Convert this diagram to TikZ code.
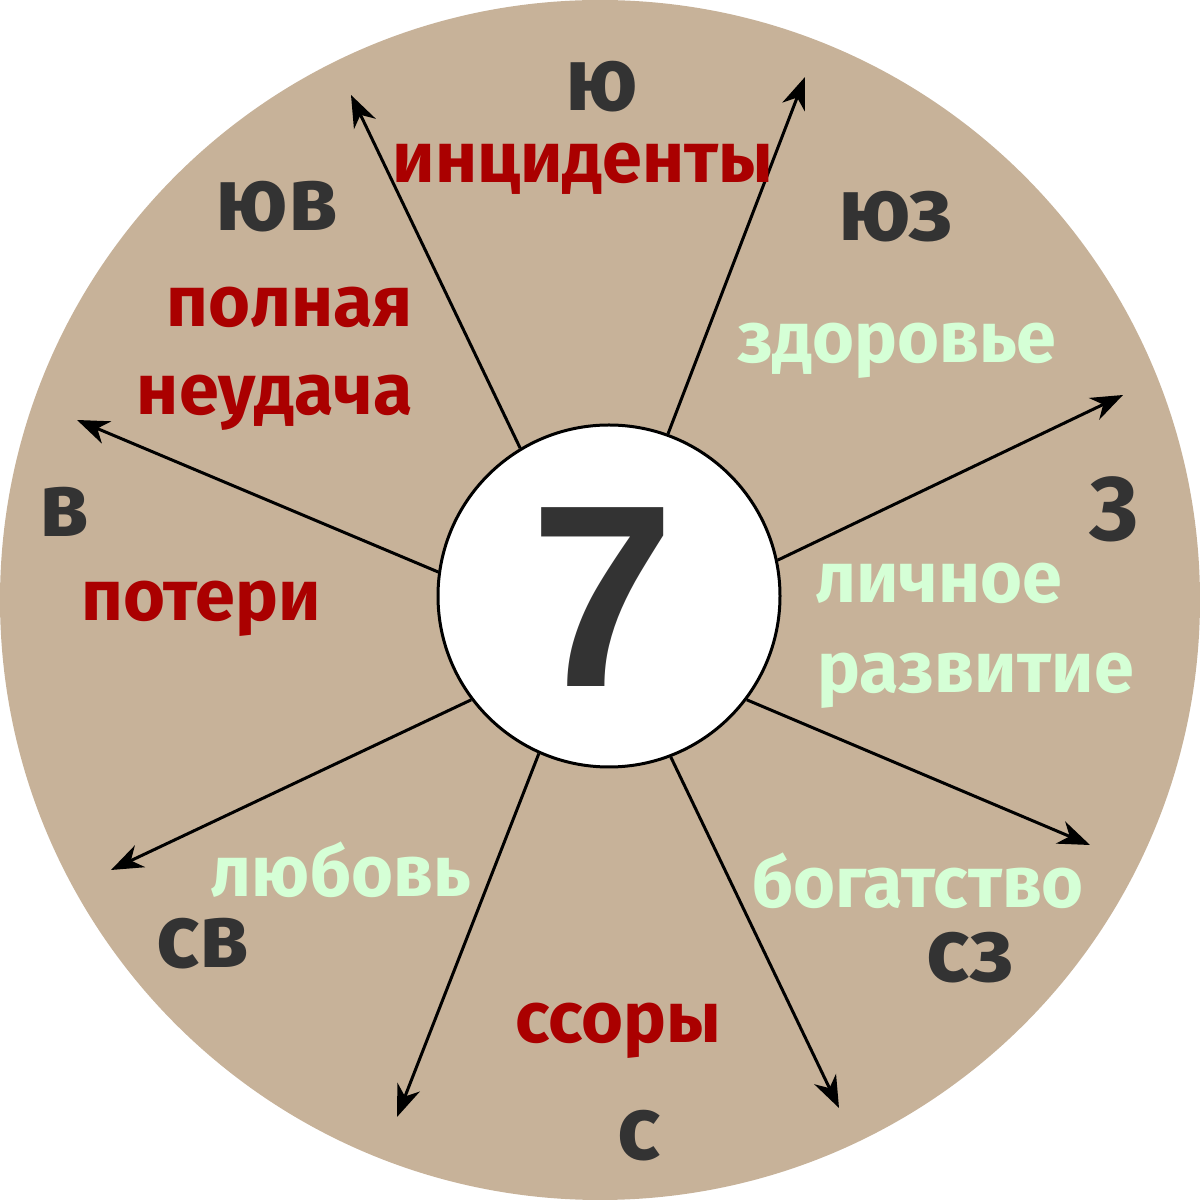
\documentclass[tikz,border=0pt]{standalone}
\usepackage{fontspec}
\setmainfont{Fira Sans}
\newfontfamily\numfont{Liberation Sans}
\usetikzlibrary{arrows.meta}
\definecolor{tan}{RGB}{199,178,153}
\definecolor{darkred}{RGB}{170,0,0}
\definecolor{mint}{RGB}{213,255,214}
\definecolor{darkgray}{RGB}{51,51,51}
\tikzset{
  dirlbl/.style={inner sep=0, text=darkgray, font=\bfseries\fontsize{90}{90}\selectfont},
  badlbl/.style={inner sep=0, text=darkred, font=\bfseries\fontsize{72}{72}\selectfont},
  goodlbl/.style={inner sep=0, text=mint, font=\bfseries\fontsize{72}{72}\selectfont},
  ray/.style={line width=3pt, -{Stealth[length=32pt,width=24pt,inset=10pt]}},
}
\begin{document}
\begin{tikzpicture}[x=1pt,y=1pt]
\useasboundingbox (0,0) rectangle (1200,1200);
\fill[tan] (600,600) circle[radius=600];
% hub
\node[circle, draw, line width=3pt, fill=white, minimum size=342pt, inner sep=0] (hub) at (609,604) {};
\node[anchor=base, inner sep=0, text=darkgray, font=\numfont\bfseries\fontsize{260}{260}\selectfont] (seven) at (603,513) {7};
% tips
\coordinate (t1) at (351,1105);
\coordinate (t2) at (805,1123);
\coordinate (t3) at (1123,805);
\coordinate (t4) at (1090,355);
\coordinate (t5) at (839,92);
\coordinate (t6) at (397,83);
\coordinate (t7) at (111,330);
\coordinate (t8) at (77,780);
\draw[ray] (hub.121) -- (t1);
\draw[ray] (hub.70.6) -- (t2);
\draw[ray] (hub.12.7) -- (t3);
\draw[ray] (hub.-37.5) -- (t4);
\draw[ray] (hub.-69.4) -- (t5);
\draw[ray] (hub.246.5) -- (t6);
\draw[ray] (hub.217.7) -- (t7);
\draw[ray] (hub.172.3) -- (t8);
% labels
\node[dirlbl, anchor=base] (s) at (602,1089) {ю};
\node[badlbl, anchor=base] (inc) at (583,1017) {инциденты};
\node[dirlbl, anchor=base] (sw) at (896,959) {юз};
\node[goodlbl, anchor=base] (health) at (897,837) {здоровье};
\node[dirlbl, anchor=base] (w) at (1114,659) {З};
\node[goodlbl, anchor=base west] (pers1) at (815,597) {личное};
\node[goodlbl, anchor=base west] (pers2) at (817,507) {развитие};
\node[dirlbl, anchor=base] (se) at (277,969) {юв};
\node[badlbl, anchor=base east] (fail1) at (413,873) {полная};
\node[badlbl, anchor=base east] (fail2) at (413,785) {неудача};
\node[dirlbl, anchor=base] (e) at (65,663) {в};
\node[badlbl, anchor=base] (loss) at (201,579) {потери};
\node[goodlbl, anchor=base] (love) at (341,303) {любовь};
\node[dirlbl, anchor=base] (ne) at (203,232) {св};
\node[badlbl, anchor=base] (quarrel) at (618,157) {ссоры};
\node[dirlbl, anchor=base] (n) at (639,40) {с};
\node[goodlbl, anchor=base] (wealth) at (918,292) {богатство};
\node[dirlbl, anchor=base] (nw) at (970,218) {сз};
\end{tikzpicture}
\end{document}
